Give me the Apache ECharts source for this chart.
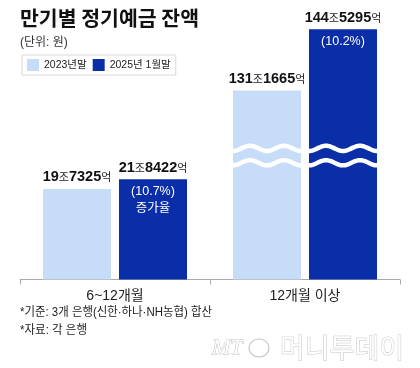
<!DOCTYPE html>
<html><head><meta charset="utf-8">
<script src="https://cdn.jsdelivr.net/npm/echarts@6/dist/echarts.min.js"></script>
<style>html,body{margin:0;padding:0;background:#fff}#c{width:420px;height:368px}</style>
</head><body><div id="c"></div>
<script>
// ---- data ----
const categories = ['6~12개월', '12개월 이상'];
const seriesNames = ['2023년말', '2025년 1월말'];
const values2023 = [19.7325, 131.1665];   // 조 원
const values2025 = [21.8422, 144.5295];   // 조 원
const growthRates = ['(10.7%)', '(10.2%)'];
const growthNote = ['증가율', ''];
const titleText = '만기별 정기예금 잔액';
const unitText = '(단위: 원)';
const footnotes = ['*기준: 3개 은행(신한·하나·NH농협) 합산', '*자료: 각 은행'];

// ---- layout / style ----
const LIGHT = '#c7dcf8', DARK = '#0a2ea8';
const BRK_START = 24, BRK_END = 120, BRK_GAP = 6, Y_MAX = 150;
const PX_PER_UNIT = 4.59, BASE_Y = 279.5;
const gridBottom = 368 - BASE_Y;
const gridTop = BASE_Y - (Y_MAX - (BRK_END - BRK_START) + BRK_GAP) * PX_PER_UNIT;
const FONT = '"Liberation Sans", "Noto Sans CJK KR", sans-serif';
const KR = '"Noto Sans CJK KR", sans-serif';
const NUM_FONT = '"Liberation Sans Narrow", "Liberation Sans", sans-serif';
const FOOT_WIDTHS = [192, 67];   // target rendered widths of footnote lines (px)

function fmtValue(v) {
  const parts = v.toFixed(4).split('.');
  return '{n|' + parts[0] + '}{u|조}{n|' + parts[1] + '}{u|억}';
}
const rich = {
  n: {fontFamily: NUM_FONT, fontWeight: 'bold', fontSize: 14.5, color: '#111', lineHeight: 18},
  u: {fontFamily: KR, fontSize: 11, color: '#222', lineHeight: 18},
  s: {fontSize: 1, lineHeight: 6},
  p: {fontFamily: FONT, fontSize: 12.5, color: '#fff', lineHeight: 17}
};

const chart = echarts.init(document.getElementById('c'), null, {renderer: 'canvas'});
const option = {
  animation: false,
  backgroundColor: '#fff',
  title: {
    text: titleText, subtext: unitText, left: 20, top: 8, padding: 0, itemGap: 8,
    textStyle: {fontFamily: KR, fontSize: 20.5, fontWeight: 'bold', color: '#111'},
    subtextStyle: {fontFamily: FONT, fontSize: 12, color: '#333'}
  },
  legend: {
    data: seriesNames, left: 22, top: 55, icon: 'rect', itemWidth: 12, itemHeight: 12, itemGap: 6,
    padding: [4, 5], borderColor: '#d8d8d8', borderWidth: 1,
    textStyle: {fontFamily: FONT, fontSize: 10.5, color: '#222'}
  },
  grid: {left: 20, right: 20, top: gridTop, bottom: gridBottom},
  xAxis: {
    type: 'category', data: categories,
    axisLine: {lineStyle: {color: '#aaa', width: 1}},
    axisTick: {show: true, length: 5, lineStyle: {color: '#aaa'}},
    axisLabel: {fontFamily: FONT, fontSize: 14, color: '#222', margin: 10}
  },
  yAxis: {
    type: 'value', min: 0, max: Y_MAX, show: false,
    splitLine: {show: false},
    breaks: [{start: BRK_START, end: BRK_END, gap: BRK_GAP}],
    breakArea: {show: false}
  },
  series: [
    {
      name: seriesNames[0], type: 'bar', data: values2023, barWidth: 68, barGap: '11.76%',
      itemStyle: {color: LIGHT},
      label: {show: true, position: 'top', distance: 3, formatter: p => fmtValue(p.value), rich: rich}
    },
    {
      name: seriesNames[1], type: 'bar', data: values2025, barWidth: 68, barGap: '11.76%',
      itemStyle: {color: DARK},
      label: {
        show: true, position: 'insideTop', distance: 0, offset: [0, -20],
        formatter: p => fmtValue(p.value) + '\n{s| }\n{p|' + growthRates[p.dataIndex] + '}' +
          (growthNote[p.dataIndex] ? '\n{p|' + growthNote[p.dataIndex] + '}' : ''),
        rich: rich
      }
    }
  ]
};
chart.setOption(option);

// ---- decorations: wavy break marks on the broken bars ----
const graphics = [];
const yA = chart.convertToPixel({yAxisIndex: 0}, BRK_END);
const yB = chart.convertToPixel({yAxisIndex: 0}, BRK_START);
const yc = (yA + yB) / 2;
[values2023, values2025].forEach((vals, si) => {
  vals.forEach((v, di) => {
    if (v <= BRK_END) return;
    const lay = chart.getModel().getSeriesByIndex(si).getData().getItemLayout(di);
    const x0 = lay.x, w = lay.width;
    [-7.2, 7.2].forEach(dy => {
      const pts = [];
      for (let x = -1; x <= w + 1; x += 1) {
        pts.push([x0 + x, yc + dy + 2.6 * Math.cos(2 * Math.PI * x / 34)]);
      }
      graphics.push({type: 'polyline', silent: true, z: 50, shape: {points: pts},
        style: {stroke: '#fff', lineWidth: 4.5, fill: null}});
    });
  });
});
// footnotes (condensed to the reference widths)
const mctx = document.createElement('canvas').getContext('2d');
const footFont = '12px ' + FONT;
mctx.font = footFont;
footnotes.forEach((t, i) => {
  const natural = mctx.measureText(t).width;
  graphics.push({type: 'text', x: 20, y: 313 + i * 18, scaleX: Math.min(1, FOOT_WIDTHS[i] / natural), silent: true,
    style: {text: t, font: footFont, fill: '#222', verticalAlign: 'middle'}});
});
// watermark
graphics.push({type: 'text', x: 212, y: 348, silent: true,
  style: {text: 'MT', font: 'italic 22px "Liberation Serif", serif', fill: '#fff', stroke: '#c4c4c4', lineWidth: 1, verticalAlign: 'middle'}});
graphics.push({type: 'ellipse', silent: true, shape: {cx: 259, cy: 348, rx: 10, ry: 9},
  style: {fill: null, stroke: '#c4c4c4', lineWidth: 1.2}});
graphics.push({type: 'text', x: 280, y: 348, silent: true,
  style: {text: '머니투데이', font: '27px ' + KR, fill: '#fff', stroke: '#c4c4c4', lineWidth: 1, verticalAlign: 'middle'}});
chart.setOption({graphic: graphics});
</script>
</body></html>
